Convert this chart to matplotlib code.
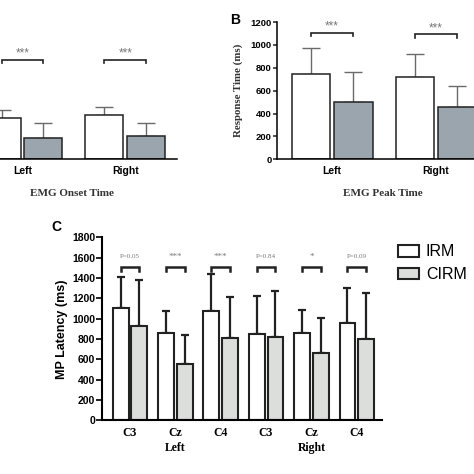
import matplotlib
matplotlib.use('Agg')
import matplotlib.pyplot as plt
import numpy as np

# panel A / B data (ms)
sides = ['Left', 'Right']
onset_irm = [360, 384]
onset_irm_sd = [70, 69]
onset_cirm = [188, 205]
onset_cirm_sd = [128, 111]
onset_sig = ['***', '***']
onset_sig_y = [871, 871]

peak_irm = [747, 718]
peak_irm_sd = [230, 201]
peak_cirm = [500, 459]
peak_cirm_sd = [267, 178]
peak_sig = ['***', '***']
peak_sig_y = [1104, 1092]

# panel C data
sites = ['C3', 'Cz', 'C4', 'C3', 'Cz', 'C4']
hemis = ['Left', 'Right']
mp_irm = [1100, 857, 1080, 844, 857, 959]
mp_irm_sd = [312, 223, 358, 381, 230, 345]
mp_cirm = [929, 552, 811, 824, 660, 801]
mp_cirm_sd = [450, 285, 404, 444, 351, 450]
mp_sig = ['P=0.05', '***', '***', 'P=0.84', '*', 'P=0.09']
mp_sig_y = [1510] * 6

SANS = 'Liberation Sans'
SERIF = 'Liberation Serif'
dark = '#222222'
blue_grey = '#9ba5ad'
light_grey = '#dcdedc'

fig = plt.figure(figsize=(4.74, 4.74), dpi=100)


def bracket(ax, x1, x2, y, drop, text, lw, fs, fam, ty):
    ax.plot([x1, x1, x2, x2], [y - drop, y, y, y - drop], color=dark, lw=lw,
            solid_joinstyle='miter', clip_on=False)
    ax.text((x1 + x2) / 2, ty, text, ha='center', va='center', fontsize=fs,
            color='#777777', family=fam, clip_on=False)


def emg_panel(ax, irm, irm_sd, cirm, cirm_sd, sig, sig_y, text_dy, xlabel):
    x = np.arange(len(irm))
    w, off = 0.37, 0.204
    ax.bar(x - off, irm, w, color='white', edgecolor=dark, lw=1.1, zorder=2)
    ax.bar(x + off, cirm, w, color=blue_grey, edgecolor=dark, lw=1.1, zorder=2)
    ax.errorbar(x - off, irm, yerr=[np.zeros(len(irm)), irm_sd], fmt='none',
                ecolor='#6a6a6a', elinewidth=1, capsize=6.7, capthick=1, zorder=1)
    ax.errorbar(x + off, cirm, yerr=[np.zeros(len(cirm)), cirm_sd], fmt='none',
                ecolor='#6a6a6a', elinewidth=1, capsize=6.7, capthick=1, zorder=1)
    for i in range(len(irm)):
        bracket(ax, x[i] - off, x[i] + off, sig_y[i], 28, sig[i], 1.2, 8.5,
                SANS, sig_y[i] + text_dy)
    ax.set_xlim(-0.53, 1.5)
    ax.set_ylim(0, 1200)
    ax.set_yticks(np.arange(0, 1201, 200))
    ax.set_xticks(x)
    ax.set_xticklabels(sides, family=SANS, fontweight='bold', fontsize=7.5)
    for lab in ax.get_yticklabels():
        lab.set_family(SANS)
        lab.set_fontweight('bold')
        lab.set_fontsize(6.8)
    ax.tick_params(axis='x', length=0, pad=5)
    ax.tick_params(axis='y', length=3, width=1.1, pad=1, color=dark)
    ax.spines['top'].set_visible(False)
    ax.spines['right'].set_visible(False)
    ax.spines['left'].set_linewidth(1.1)
    ax.spines['bottom'].set_linewidth(1.1)
    ax.set_xlabel(xlabel, family=SERIF, fontweight='bold', fontsize=8,
                  labelpad=9, color='#333333')


# panel A (left part is cut off)
axA = fig.add_axes([-32 / 474, 1 - 159.3 / 474, 208.7 / 474, 137.3 / 474])
emg_panel(axA, onset_irm, onset_irm_sd, onset_cirm, onset_cirm_sd,
          onset_sig, onset_sig_y, 58, 'EMG Onset Time')
axA.tick_params(axis='y', labelleft=False)

# panel B
axB = fig.add_axes([277 / 474, 1 - 159.3 / 474, 211 / 474, 137.3 / 474])
emg_panel(axB, peak_irm, peak_irm_sd, peak_cirm, peak_cirm_sd,
          peak_sig, peak_sig_y, 55, 'EMG Peak Time')
axB.set_ylabel('Response Time (ms)', family=SERIF, fontweight='bold',
               fontsize=7.8, labelpad=5, color='#333333')
fig.text(230 / 474, 1 - 20 / 474, 'B', family=SANS, fontweight='bold',
         fontsize=10, va='center', ha='left')

# panel C
axC = fig.add_axes([102 / 474, 53.7 / 474, 279.7 / 474, 183 / 474])
xc = np.arange(len(sites))
wc, offc = 0.347, 0.206
b1 = axC.bar(xc - offc, mp_irm, wc, color='white', edgecolor=dark, lw=1.5,
             zorder=2, label='IRM')
b2 = axC.bar(xc + offc, mp_cirm, wc, color=light_grey, edgecolor=dark, lw=1.5,
             zorder=2, label='CIRM')
axC.errorbar(xc - offc, mp_irm, yerr=[np.zeros(6), mp_irm_sd], fmt='none',
             ecolor=dark, elinewidth=1.6, capsize=3, capthick=1.6, zorder=1)
axC.errorbar(xc + offc, mp_cirm, yerr=[np.zeros(6), mp_cirm_sd], fmt='none',
             ecolor=dark, elinewidth=1.6, capsize=3, capthick=1.6, zorder=1)
for i in range(len(sites)):
    fs = 5 if mp_sig[i].startswith('P') else 6.5
    bracket(axC, xc[i] - offc, xc[i] + offc, mp_sig_y[i], 45, mp_sig[i], 1.8,
            fs, SERIF, mp_sig_y[i] + 98)
axC.set_xlim(-0.617, 5.55)
axC.set_ylim(0, 1800)
axC.set_yticks(np.arange(0, 1801, 200))
axC.set_xticks(xc)
axC.set_xticklabels(sites, family=SERIF, fontweight='bold', fontsize=8.5)
for lab in axC.get_yticklabels():
    lab.set_family(SANS)
    lab.set_fontweight('bold')
    lab.set_fontsize(7.5)
axC.tick_params(axis='x', length=0, pad=5)
axC.tick_params(axis='y', length=4, width=1.4, pad=1, color=dark)
for s in ['top', 'right']:
    axC.spines[s].set_visible(False)
for s in ['left', 'bottom']:
    axC.spines[s].set_linewidth(1.5)
for j, h in enumerate(hemis):
    axC.text(1 + 3 * j, -0.12, h, transform=axC.get_xaxis_transform(),
             ha='center', va='top', family=SERIF, fontweight='bold', fontsize=8.5)
axC.set_ylabel('MP Latency (ms)', family=SANS, fontweight='bold', fontsize=9,
               labelpad=3)
axC.legend(handles=[b1, b2], loc='upper left', bbox_to_anchor=(398 / 474, 1 - 244.5 / 474),
           bbox_transform=fig.transFigure, frameon=False,
           prop={'family': SANS, 'size': 11.5}, handlelength=1.3, handleheight=0.7,
           handletextpad=0.45, labelspacing=0.45, borderpad=0, borderaxespad=0)
fig.text(51 / 474, 1 - 227 / 474, 'C', family=SANS, fontweight='bold',
         fontsize=10, va='center', ha='left')

fig.savefig('out.png', dpi=100)
